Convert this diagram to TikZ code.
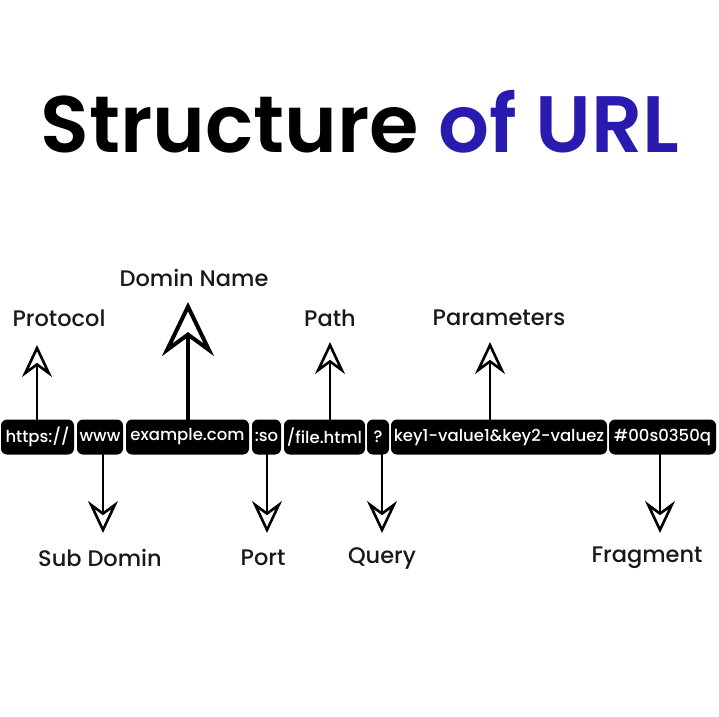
\documentclass[tikz,border=0pt]{standalone}
\usepackage{fontspec}
\setmainfont{Poppins}
\newfontfamily\titlefont{Poppins SemiBold}
\newfontfamily\medfont{Poppins Medium}
\usetikzlibrary{arrows.meta}
\definecolor{urlblue}{HTML}{2A1BB0}
\tikzset{
  part/.style={rectangle, rounded corners=6pt, fill=black, text=white, minimum height=35pt, inner sep=0pt, font=\medfont\fontsize{16.5}{19}\selectfont},
  lab/.style={font=\medfont\fontsize{22.5}{27}\selectfont, text=black!90, inner sep=0pt},
  uparrow/.style={line width=2.6pt, line cap=round, -{Stealth[open, length=32pt, width=30pt, inset=11pt, line width=2.6pt]}},
  bigarrow/.style={line width=4.2pt, line cap=round, -{Stealth[open, length=54pt, width=52pt, inset=19pt, line width=4pt]}},
}
\begin{document}
\begin{tikzpicture}[x=1pt, y=-1pt]
\useasboundingbox (0,0) rectangle (719,716);
% title
\node[anchor=base, inner sep=0pt, font=\titlefont\fontsize{80}{90}\selectfont] (title) at (360,152) {Structure \textcolor{urlblue}{of URL}};
% url parts
\node[part, minimum width=73pt] (https) at (37.5,437) {https://};
\node[part, minimum width=46pt] (www) at (100,437) {www};
\node[part, minimum width=123pt] (dom) at (187.5,437) {example.com};
\node[part, minimum width=29pt] (port) at (266.5,437) {:so};
\node[part, minimum width=81pt] (path) at (324.5,437) {/file.html};
\node[part, minimum width=22pt] (qm) at (378,437) {?};
\node[part, minimum width=216pt] (par) at (499,437) {key1-value1\&key2-valuez};
\node[part, minimum width=107pt] (frag) at (662.5,437) {\#00s0350q};
% labels
\node[lab] (lprot) at (59,318) {Protocol};
\node[lab] (ldom) at (194,278) {Domin Name};
\node[lab] (lpath) at (330,318) {Path};
\node[lab] (lpar) at (499,318) {Parameters};
\node[lab] (lsub) at (100,558) {Sub Domin};
\node[lab] (lport) at (263,558) {Port};
\node[lab] (lq) at (382,558) {Query};
\node[lab] (lfrag) at (647,558) {Fragment};
% arrow tips
\coordinate (tprot) at (37,345);
\coordinate (tdom) at (188,302);
\coordinate (tpath) at (330,342);
\coordinate (tpar) at (490,342);
\coordinate (tsub) at (103,533);
\coordinate (tport) at (267,533);
\coordinate (tq) at (382,533);
\coordinate (tfrag) at (660,533);
% arrows
\draw[uparrow] (https.north -| tprot) -- (tprot);
\draw[bigarrow] (dom.north -| tdom) -- (tdom);
\draw[uparrow] (path.north -| tpath) -- (tpath);
\draw[uparrow] (par.north -| tpar) -- (tpar);
\draw[uparrow] (www.south -| tsub) -- (tsub);
\draw[uparrow] (port.south -| tport) -- (tport);
\draw[uparrow] (qm.south -| tq) -- (tq);
\draw[uparrow] (frag.south -| tfrag) -- (tfrag);
\end{tikzpicture}
\end{document}
